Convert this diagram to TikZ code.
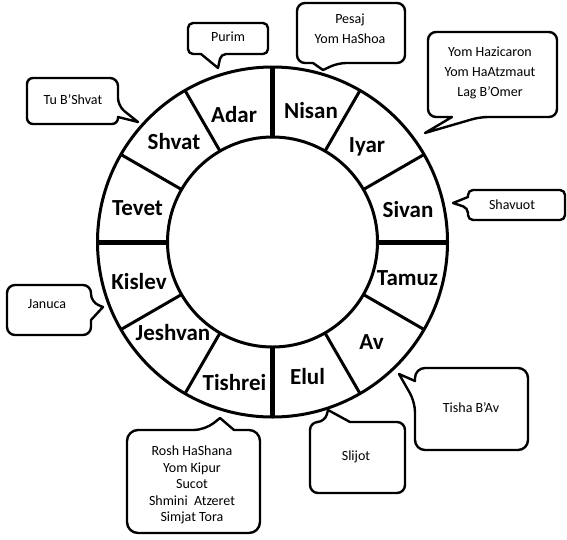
\documentclass[tikz,border=0pt]{standalone}
\usepackage{fontspec}
\setmainfont{Carlito}
\begin{document}
\begin{tikzpicture}[x=1pt,y=-1pt,
  month/.style={font=\bfseries\fontsize{23}{23}\selectfont, anchor=base, inner sep=0pt},
  ctext/.style={font=\fontsize{14}{20}\selectfont, align=center, inner sep=0pt},
  callout/.style={draw, line width=2.4pt, rounded corners=8pt, line join=round},
  smallcallout/.style={callout, rounded corners=5pt},
  ring/.style={line width=3pt},
  divider/.style={line width=3pt},
  majordiv/.style={line width=5pt}]
\useasboundingbox (0,0) rectangle (567,539);
\coordinate (c) at (272.5,242);
% ring
\foreach \a in {30,60,120,150,210,240,300,330}
  \draw[divider] ([shift={(\a:105)}]c) -- ([shift={(\a:175)}]c);
\foreach \a in {0,90,180,270}
  \draw[majordiv] ([shift={(\a:105)}]c) -- ([shift={(\a:175)}]c);
\draw[ring] (c) circle[radius=175];
\draw[ring] (c) circle[radius=105];
% months
\node[month] (nisan) at (311,118) {Nisan};
\node[month] (adar) at (234,122) {Adar};
\node[month] (shvat) at (174,149) {Shvat};
\node[month] (tevet) at (137.5,215) {Tevet};
\node[month] (kislev) at (139,289) {Kislev};
\node[month] (jeshvan) at (173,340) {Jeshvan};
\node[month] (tishrei) at (234.5,390) {Tishrei};
\node[month] (elul) at (307.5,384) {Elul};
\node[month] (av) at (371.5,349) {Av};
\node[month] (tamuz) at (407.5,285) {Tamuz};
\node[month] (sivan) at (408,217) {Sivan};
\node[month] (iyar) at (367,152) {Iyar};
% callouts
\draw[smallcallout] (228,23) -- (268,23) -- (268,54) -- (221,54) [sharp corners] -- (218,68) -- (201,54) [rounded corners=5pt] -- (188,54) -- (188,23) -- cycle;
\node[ctext] (purim) at (228,37) {Purim};

\draw[callout] (351,3) -- (405,3) -- (405,63) -- (338,63) [sharp corners] -- (323,70) -- (313,63) [rounded corners=8pt] -- (297,63) -- (297,3) -- cycle;
\node[ctext] (pesaj) at (350,29) {Pesaj\\Yom HaShoa};

\draw[callout] (492,32) -- (557,32) -- (557,117) -- (480,117) [sharp corners] -- (425,133) -- (452,117) [rounded corners=8pt] -- (428,117) -- (428,32) -- cycle;
\node[ctext] (iyarfest) at (490,73) {Yom Hazicaron\\Yom HaAtzmaut\\Lag B’Omer};

\draw[callout] (72,78) -- (118,78) -- (118,106) [sharp corners] -- (138,122) -- (118,117) [rounded corners=6pt] -- (118,124) -- (27,124) -- (27,78) -- cycle;
\node[ctext] (tubshvat) at (73,100) {Tu B’Shvat};

\draw[smallcallout] (516,190) -- (565,190) -- (565,220) -- (468,220) -- (468,208) [sharp corners] -- (453,203) -- (468,197) [rounded corners=5pt] -- (468,190) -- cycle;
\node[ctext] (shavuot) at (512,205) {Shavuot};

\draw[callout] (49,285) -- (91,285) -- (91,302) [sharp corners] -- (103,307) -- (91,320) [rounded corners=8pt] -- (91,335) -- (7,335) -- (7,285) -- cycle;
\node[ctext] (januca) at (47,304) {Januca};

\draw[callout, rounded corners=11pt] (127,480) -- (127,430) -- (205,430) [sharp corners] -- (220,418) -- (234,430) [rounded corners=11pt] -- (260,430) -- (260,533) -- (127,533) -- cycle;
\node[ctext, font=\fontsize{14}{16.5}\selectfont] (tishreifest) at (192,485) {Rosh HaShana\\Yom Kipur\\Sucot\\Shmini\ \ Atzeret\\Simjat Tora};

\draw[callout] (310,456) -- (310,422) -- (325,422) [sharp corners] -- (328,410) -- (350,422) [rounded corners=8pt] -- (405,422) -- (405,493) -- (310,493) -- cycle;
\node[ctext] (slijot) at (356,457) {Slijot};

\draw[callout, rounded corners=10pt] (471,368) -- (528,368) -- (528,450) -- (415,450) -- (415,402) [sharp corners] -- (399,374) -- (415,381) [rounded corners=10pt] -- (415,368) -- cycle;
\node[ctext] (tishabav) at (471,408) {Tisha B’Av};
\end{tikzpicture}
\end{document}
